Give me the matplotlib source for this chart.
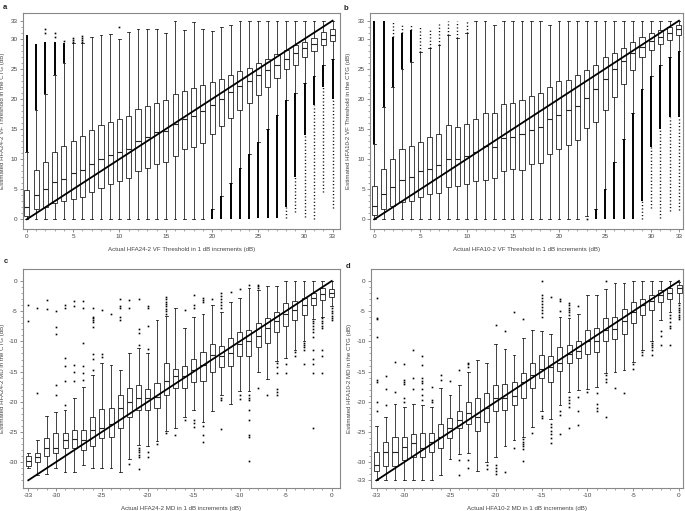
import matplotlib
matplotlib.use('Agg')
import matplotlib.pyplot as plt

plt.rcParams['font.family'] = ['Liberation Sans', 'DejaVu Sans']

# ---------------- panel a : HFA24-2 threshold ----------------
a_pos = list(range(0, 34))
a_q1 = [0.55, 1.7, 2.0, 2.7, 3.1, 3.3, 3.65, 4.5, 5.15, 5.9, 6.4, 6.9, 8.1, 8.5, 9.2, 9.6, 10.5,
        11.7, 12.0, 12.7, 14.2, 15.5, 16.9, 18.2, 19.4, 20.7, 21.9, 23.4, 24.9, 25.7, 27.0, 28.0, 28.9, 29.6]
a_med = [2.0, 4.1, 5.0, 6.2, 6.7, 7.75, 8.2, 9.2, 10.0, 10.7, 11.2, 11.7, 13.0, 13.6, 14.5, 14.7, 15.9,
         16.7, 17.2, 18.0, 19.0, 20.0, 21.1, 22.1, 23.0, 23.9, 24.8, 25.7, 26.7, 27.6, 28.4, 29.2, 30.0, 30.7]
a_q3 = [4.9, 8.2, 9.5, 11.2, 12.2, 13.0, 13.8, 14.8, 15.6, 16.1, 16.6, 17.1, 18.3, 18.9, 19.4, 19.8, 20.8,
        21.3, 21.8, 22.3, 22.8, 23.3, 24.0, 24.6, 25.2, 25.9, 26.6, 27.4, 28.1, 28.9, 29.5, 30.2, 31.1, 31.6]
a_lo = [0] * 20 + [1.7, 3.8, 6.1, 8.5, 10.8, 12.9, 15.0, 17.4, 19.9, 21.0, 22.7, 23.8, 25.6, 26.6]
a_hi = [11.2, 18.1, 20.8, 24.0, 25.9, 29.3, 29.3, 30.3, 30.7, 30.8, 29.9, 31.2, 31.7, 31.7, 31.6, 30.9, 33.0,
        31.4, 32.7, 31.7, 31.3, 31.9, 32.3, 33, 33, 33, 33, 33, 33, 33, 33, 33, 33, 33]
a_fliers = {2: [30.9, 31.7], 3: [30.3, 31.0], 4: [29.7], 5: [29.5, 29.8, 30.1],
            6: [29.5, 29.8, 30.1, 30.4], 10: [32.0]}
a_dense = [(0, 11.2, 30.6), (1, 18.1, 29.2), (2, 20.8, 29.4), (3, 24.0, 29.4), (4, 25.9, 29.3),
           (20, 0, 1.7), (21, 0, 3.8), (22, 0, 6.1), (23, 0, 8.5), (24, 0, 10.8), (25, 0.2, 12.9),
           (26, 0.2, 15.0), (27, 0.2, 17.4), (28, 2.0, 19.9), (29, 7.0, 21.0), (30, 14.0, 22.7),
           (31, 19.0, 23.8), (32, 22.0, 25.6), (33, 20.0, 26.6)]
a_sparse = [(28, 0.2, 2.0), (29, 1.2, 7.0), (30, 0.3, 14.0), (31, 0.0, 19.0), (32, 4.6, 22.0), (33, 1.8, 20.0)]

# ---------------- panel b : HFA10-2 threshold ----------------
b_pos = list(range(0, 34))
b_q1 = [0.7, 1.7, 2.2, 2.8, 3.0, 3.7, 4.2, 4.4, 5.4, 5.5, 5.9, 6.4, 6.6, 6.8, 8.0, 8.3, 8.2,
        9.2, 9.4, 10.9, 11.7, 12.4, 13.2, 15.1, 16.1, 18.1, 20.4, 22.5, 24.8, 27.0, 28.1, 29.1, 29.8, 30.7]
b_med = [2.2, 4.2, 5.4, 6.6, 7.0, 8.0, 8.3, 9.1, 10.1, 10.0, 10.5, 11.1, 12.2, 12.0, 13.5, 13.7, 14.2,
         14.9, 15.4, 16.6, 17.4, 18.2, 18.9, 20.2, 21.7, 23.3, 24.9, 26.3, 27.7, 28.7, 29.6, 30.3, 31.0, 31.6]
b_q3 = [5.5, 8.3, 10.1, 11.6, 12.2, 12.9, 13.7, 14.2, 15.6, 15.4, 15.9, 16.7, 17.6, 17.6, 19.1, 19.3, 19.8,
        20.5, 21.0, 21.9, 23.0, 23.2, 23.9, 24.8, 25.7, 26.9, 27.7, 28.5, 29.5, 30.3, 30.9, 31.4, 31.9, 32.3]
b_lo = [0] * 23 + [0.5, 1.7, 5.0, 9.5, 13.4, 17.6, 21.6, 23.8, 25.6, 26.9, 28.0]
b_hi = [12.5, 18.6, 21.9, 24.9, 26.2, 27.8, 28.5, 28.9, 30.7, 30.2, 30.9, 33, 33, 32.3, 33, 33, 33,
        33, 33, 32.3, 33, 33, 33, 33, 33, 33, 33, 33, 33, 33, 33, 33, 33, 33]
b_fliers = {23: [0.0]}
b_dense = [(0, 12.5, 33), (1, 18.6, 33), (2, 21.9, 30.3), (3, 24.9, 31.0), (4, 26.2, 31.5),
           (24, 0, 1.7), (25, 0, 5.0), (26, 0, 9.5), (27, 0, 13.4), (28, 0, 17.6), (29, 3.0, 21.6),
           (30, 12.0, 23.8), (31, 15.0, 25.6), (32, 17.0, 26.9), (33, 17.0, 28.0)]
b_sparse = [(2, 30.3, 32.7), (3, 31.0, 32.5), (4, 31.5, 32.4), (5, 27.8, 32.0), (6, 28.5, 31.6),
            (7, 28.9, 32.4), (8, 30.7, 33), (9, 30.2, 33), (10, 30.9, 33),
            (29, 0, 3.0), (30, 1.9, 12.0), (31, 0.2, 15.0), (32, 1.4, 17.0), (33, 1.5, 17.0)]

# ---------------- panel c : HFA24-2 MD ----------------
c_pos = list(range(-33, 1))
c_q1 = [-30.6, -30.0, -28.9, -28.5, -27.6, -27.6, -28.0, -27.3, -26.0, -25.8, -24.3, -22.5, -21.4, -21.4,
        -21.0, -18.9, -17.8, -17.7, -16.8, -16.6, -15.0, -14.3, -14.0, -12.5, -12.5, -10.9, -10.3, -8.5,
        -7.4, -6.5, -5.6, -3.9, -3.1, -2.6]
c_med = [-29.8, -29.2, -27.7, -27.6, -26.3, -26.2, -26.3, -24.7, -24.4, -23.6, -21.0, -20.0, -19.3, -19.4,
         -19.2, -16.6, -15.8, -15.8, -14.7, -13.9, -12.3, -12.4, -12.0, -10.5, -10.0, -9.1, -7.8, -6.7,
         -5.5, -4.8, -3.9, -2.8, -2.2, -2.0]
c_q3 = [-28.9, -28.5, -26.0, -25.2, -25.2, -24.7, -24.7, -22.6, -21.2, -21.1, -18.9, -17.7, -17.2, -17.9,
        -16.9, -13.5, -14.5, -14.0, -12.9, -11.8, -10.5, -10.7, -9.5, -8.4, -8.1, -7.0, -6.2, -5.2,
        -3.7, -3.3, -2.8, -2.0, -1.2, -1.3]
c_lo = [-31.0, -32.1, -32.0, -31.0, -31.7, -31.7, -30.5, -31.0, -31.0, -31.0, -31.7, -29.5, -27.2, -27.3,
        -26.5, -24.8, -24.4, -22.5, -21.4, -23.3, -21.5, -18.8, -20.3, -18.2, -18.2, -15.1, -16.2, -13.2,
        -12.8, -11.4, -10.0, -6.3, -5.9, -4.2]
c_hi = [-28.5, -26.3, -22.3, -21.7, -21.4, -19.3, -17.5, -15.5, -13.6, -13.9, -14.7, -12.0, -11.1, -12.0,
        -6.4, -5.8, -4.5, -7.8, -6.0, -5.4, -3.9, -5.2, -3.5, -2.8, -1.1, -1.5, -0.9, -0.8,
        0, 0, 0, 0, 0, 0]
c_fliers = {
    -33: [-3.9, -6.7],
    -32: [-4.5, -18.6],
    -31: [-3.1, -4.6],
    -30: [-5.0, -7.6, -8.8, -17.2, -18.8],
    -29: [-3.9, -4.4, -12.8, -14.0, -16.6, -20.5],
    -28: [-3.3, -4.1, -13.9, -15.0, -16.6],
    -27: [-3.3, -4.4, -10.3, -14.0, -15.3, -16.4],
    -26: [-4.4, -5.9, -6.2, -6.5, -6.8, -7.6, -12.1, -12.9, -14.7],
    -25: [-4.8, -12.1, -12.6],
    -24: [-5.5],
    -23: [-2.9, -4.1, -4.4, -6.0, -6.4],
    -22: [-3.1, -4.4, -30.3],
    -21: [-3.0, -8.0, -8.6, -10.6, -27.6, -28.0, -28.4, -28.8, -29.2, -31.1],
    -20: [-4.1, -4.5, -7.4, -11.3, -28.4, -29.2],
    -19: [-27.0],
    -18: [-2.6, -3.0, -3.4, -3.8, -4.2, -4.6, -5.0, -5.4, -25.2],
    -17: [-25.5],
    -16: [-4.8, -23.0],
    -15: [-2.3, -4.0, -4.5, -23.0, -23.5, -24.1],
    -14: [-2.8, -3.2, -3.5, -24.0, -25.5, -26.6],
    -13: [-3.0],
    -12: [-2.0, -2.5, -3.0, -3.5, -4.0, -4.5, -19.4, -19.7, -24.5],
    -11: [-1.9],
    -10: [-1.3, -18.9, -19.5],
    -9: [-0.7, -18.9, -19.3, -19.7, -21.4, -23.0, -25.5, -25.9, -29.8],
    -8: [-0.6, -0.9, -1.2, -17.7],
    -7: [-18.8],
    -6: [-13.6, -14.2, -15.3, -17.9, -18.4, -18.8],
    -5: [-13.8, -15.3],
    -4: [-11.8, -12.5],
    -3: [-10.3, -10.6, -10.9, -11.5, -13.7],
    -2: [-6.6, -7.0, -7.5, -8.0, -8.5, -9.2, -11.4, -12.9, -13.8, -15.3, -24.3],
    -1: [-6.2, -6.6, -7.0, -7.4, -7.8, -11.4, -12.5, -15.3],
    0: [-4.5, -4.9, -5.3, -5.8, -6.2, -6.5],
}

# ---------------- panel d : HFA10-2 MD ----------------
d_pos = list(range(-33, 1))
d_q1 = [-31.5, -30.6, -30.6, -29.6, -29.2, -29.1, -28.4, -27.7, -26.0, -24.4, -23.6, -24.9, -23.3, -21.6,
        -21.4, -20.5, -19.4, -17.8, -16.1, -16.7, -14.9, -13.6, -12.7, -12.1, -11.7, -9.9, -9.6, -8.8,
        -7.0, -5.7, -4.8, -3.5, -2.9, -2.0]
d_med = [-30.4, -28.3, -28.4, -27.5, -26.9, -27.6, -26.6, -25.8, -24.3, -23.1, -21.9, -22.5, -21.0, -19.3,
         -19.4, -19.0, -16.8, -15.5, -14.5, -14.2, -13.5, -12.1, -11.6, -9.9, -9.9, -8.1, -7.9, -6.7,
         -5.2, -4.0, -3.3, -2.3, -2.0, -1.2]
d_q3 = [-28.3, -26.6, -25.9, -25.9, -25.4, -25.2, -25.2, -23.7, -22.7, -21.5, -20.0, -19.4, -18.6, -17.2,
        -17.1, -16.7, -15.3, -13.5, -12.3, -12.4, -11.0, -10.6, -9.9, -8.1, -7.8, -6.1, -5.9, -4.6,
        -3.5, -2.9, -2.3, -1.5, -1.2, -0.7]
d_lo = [-33, -33, -33, -33, -33, -33, -33, -32.2, -29.5, -28.7, -28.5, -31.5, -29.9, -29.2,
        -27.4, -26.3, -25.8, -24.1, -21.5, -22.8, -20.5, -18.3, -18.0, -17.9, -17.5, -15.3, -15.1, -14.7,
        -13.4, -11.4, -10.0, -6.5, -5.1, -3.7]
d_hi = [-24.0, -22.6, -20.4, -20.8, -20.4, -20.5, -20.8, -17.7, -18.9, -17.2, -15.0, -13.1, -13.6, -10.5,
        -11.3, -12.3, -9.5, -8.1, -8.3, -8.7, -6.0, -6.2, -5.5, -2.4, -2.4, -1.3, -0.4, -0.4,
        0, 0, 0, 0, 0, -0.2]
d_fliers = {
    -33: [-2.8, -6.1, -6.3, -9.2, -16.4, -16.8, -20.0, -21.6],
    -32: [-15.8, -17.9, -20.5],
    -31: [-13.4, -18.4],
    -30: [-13.8, -16.4, -16.8, -17.1, -19.3, -20.0],
    -29: [-11.5, -16.1, -17.9],
    -28: [-12.4, -13.9, -16.1, -16.5, -16.9, -17.9, -18.8, -19.7],
    -27: [-17.5, -19.7, -20.0],
    -26: [-15.5, -16.4],
    -25: [-16.6],
    -24: [-14.7, -29.6, -32.1],
    -23: [-13.5, -13.8, -14.2, -29.6, -31.0],
    -22: [],
    -21: [-30.4, -31.1],
    -20: [-7.3, -30.5, -31.0, -31.5, -32.0],
    -19: [-8.3, -31.6],
    -18: [-5.2, -27.6],
    -17: [-6.3, -26.2, -26.6, -27.0, -27.4, -27.8, -29.8],
    -16: [-25.2],
    -15: [0.0, -2.3, -2.8, -3.3, -3.8, -4.3, -4.8, -5.3, -5.9, -22.3, -22.7],
    -14: [-2.6, -23.7, -24.2, -24.8, -25.4, -26.0, -26.9],
    -13: [-2.9, -3.3, -5.0, -21.6, -22.2, -25.4],
    -12: [-3.7, -4.0, -4.4, -4.8, -5.2, -5.6, -19.2, -19.7, -20.2, -20.8, -24.3],
    -11: [-4.2, -19.2, -21.6, -23.8],
    -10: [-18.4],
    -9: [-18.6, -20.3, -21.0, -21.6],
    -8: [0.0, -15.6, -16.2, -16.8, -22.5],
    -7: [-17.8],
    -6: [-18.6],
    -5: [-13.8, -14.6],
    -4: [-11.7, -12.3],
    -3: [-10.2, -10.6, -11.0, -11.5, -12.3],
    -2: [-8.3, -9.1, -10.6],
    -1: [-5.6, -6.2, -6.8, -7.4, -7.8, -10.6],
    0: [-4.0, -4.4, -4.8, -5.2, -5.6, -6.0, -6.3],
}

TXT = '#444444'
EDGE = '#222222'
FS = 4.6
LFS = 4.4


def draw_panel(ax, pos, q1, med, q3, lo, hi, fliers, dense=(), sparse=()):
    stats = []
    for i, p in enumerate(pos):
        stats.append({'q1': q1[i], 'med': med[i], 'q3': q3[i],
                      'whislo': lo[i], 'whishi': hi[i],
                      'fliers': fliers.get(p, [])})
    line = dict(color=EDGE, linewidth=0.6)
    ax.bxp(stats, positions=pos, widths=0.55, capwidths=0.3, patch_artist=True,
           boxprops=dict(facecolor='white', edgecolor=EDGE, linewidth=0.6),
           medianprops=dict(color=EDGE, linewidth=0.8),
           whiskerprops=line, capprops=line,
           flierprops=dict(marker='s', markersize=1.2, markerfacecolor='black',
                           markeredgecolor='none'))
    for p, y0, y1 in dense:
        ax.vlines(p, y0, y1, colors='black', linewidth=1.4, zorder=3)
    for p, y0, y1 in sparse:
        ax.vlines(p, y0, y1, colors='black', linewidth=1.0, linestyles=(0, (0.8, 1.6)), zorder=3)
    for s in ax.spines.values():
        s.set_color('#888888')
        s.set_linewidth(0.8)
    ax.tick_params(colors='#666666', labelcolor=TXT, labelsize=FS, length=2, width=0.5, pad=1.5)
    ax.tick_params(which='minor', colors='#666666', length=1.5, width=0.4)


def label_panel(ax, xlabel, ylabel, ylab_x):
    ax.set_xlabel(xlabel, fontsize=LFS, color=TXT)
    ax.set_ylabel(ylabel, fontsize=LFS, color=TXT)
    ax.xaxis.set_label_coords(0.5, -0.083)
    ax.yaxis.set_label_coords(ylab_x, 0.5)


fig = plt.figure(figsize=(6.85, 5.11), dpi=100)

ax_a = fig.add_axes([0.0331, 0.5513, 0.4632, 0.4239])
draw_panel(ax_a, a_pos, a_q1, a_med, a_q3, a_lo, a_hi, a_fliers, a_dense, a_sparse)
ax_a.plot([0, 33], [0, 33], color='black', linewidth=1.3, zorder=4)
ax_a.set_xlim(-0.45, 33.8)
ax_a.set_ylim(-1.66, 34.33)
label_panel(ax_a, 'Actual HFA24-2 VF Threshold in 1 dB increments (dB)',
            'Estimated HFA24-2 VF Threshold in the CTG (dB)', -0.057)

ax_b = fig.add_axes([0.5401, 0.5513, 0.4574, 0.4239])
draw_panel(ax_b, b_pos, b_q1, b_med, b_q3, b_lo, b_hi, b_fliers, b_dense, b_sparse)
ax_b.plot([0, 33], [0, 33], color='black', linewidth=1.3, zorder=4)
ax_b.set_xlim(-0.47, 33.47)
ax_b.set_ylim(-1.66, 34.33)
label_panel(ax_b, 'Actual HFA10-2 VF Threshold in 1 dB increments (dB)',
            'Estimated HFA10-2 VF Threshold in the CTG (dB)', -0.0616)

for ax in (ax_a, ax_b):
    ax.set_xticks(list(range(0, 34)), minor=True)
    ax.set_xticks([0, 5, 10, 15, 20, 25, 30, 33])
    ax.set_xticklabels(['0', '5', '10', '15', '20', '25', '30', '33'])
    ax.set_yticks(list(range(0, 34)), minor=True)
    ax.set_yticks([0, 5, 10, 15, 20, 25, 30, 33])
    ax.set_yticklabels(['0', '5', '10', '15', '20', '25', '30', '33'])

ax_c = fig.add_axes([0.0331, 0.0456, 0.4632, 0.428])
draw_panel(ax_c, c_pos, c_q1, c_med, c_q3, c_lo, c_hi, c_fliers)
ax_c.plot([-33, 0], [-33, 0], color='black', linewidth=1.3, zorder=4)
ax_c.set_xlim(-33.61, 0.9)
ax_c.set_ylim(-34.23, 1.99)
label_panel(ax_c, 'Actual HFA24-2 MD in 1 dB increments (dB)',
            'Estimated HFA24-2 MD in the CTG (dB)', -0.057)
ax_c.set_yticks([0, -5, -10, -15, -20, -25, -30])
ax_c.set_yticklabels(['0', '-5', '-10', '-15', '-20', '-25', '-30'])

ax_d = fig.add_axes([0.5412, 0.0456, 0.4564, 0.428])
draw_panel(ax_d, d_pos, d_q1, d_med, d_q3, d_lo, d_hi, d_fliers)
ax_d.plot([-33, 0], [-33, 0], color='black', linewidth=1.3, zorder=4)
ax_d.set_xlim(-33.65, 0.47)
ax_d.set_ylim(-34.23, 1.99)
label_panel(ax_d, 'Actual HFA10-2 MD in 1 dB increments (dB)',
            'Estimated HFA10-2 MD in the CTG (dB)', -0.0608)
ax_d.set_yticks([0, -5, -10, -15, -20, -25, -30, -33])
ax_d.set_yticklabels(['0', '-5', '-10', '-15', '-20', '-25', '-30', '-33'])

for ax in (ax_c, ax_d):
    ax.set_xticks(list(range(-33, 1)), minor=True)
    ax.set_xticks([-33, -30, -25, -20, -15, -10, -5, 0])
    ax.set_xticklabels(['-33', '-30', '-25', '-20', '-15', '-10', '-5', '0'])
    ax.set_yticks(list(range(-33, 1)), minor=True)

fig.text(0.004, 0.992, 'a', fontsize=5.5, fontweight='bold', color='#222222', va='top')
fig.text(0.502, 0.990, 'b', fontsize=5.5, fontweight='bold', color='#222222', va='top')
fig.text(0.006, 0.496, 'c', fontsize=5.5, fontweight='bold', color='#222222', va='top')
fig.text(0.505, 0.485, 'd', fontsize=5.5, fontweight='bold', color='#222222', va='top')

fig.savefig('out.png', dpi=100)
